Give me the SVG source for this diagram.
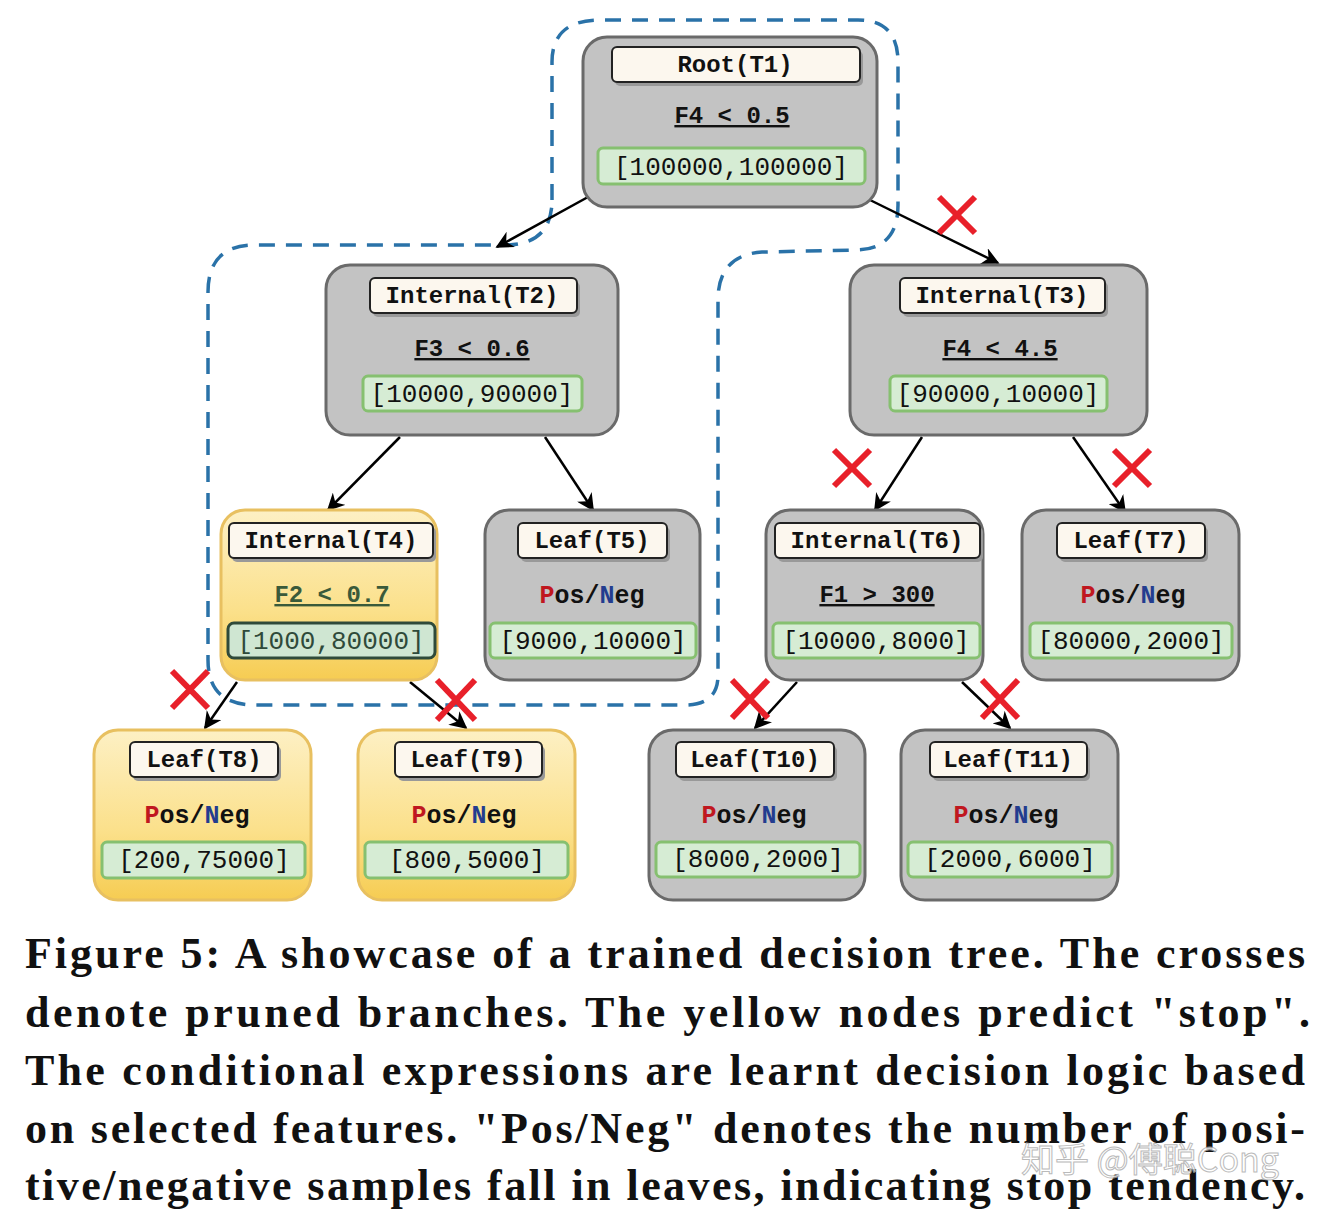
<svg xmlns="http://www.w3.org/2000/svg" width="1330" height="1222" viewBox="0 0 1330 1222">
<defs>
<linearGradient id="yel" x1="0" y1="0" x2="0" y2="1"><stop offset="0" stop-color="#fdf0c4"/><stop offset="0.6" stop-color="#fbe08a"/><stop offset="1" stop-color="#f6cc52"/></linearGradient>
<marker id="ah" viewBox="0 0 10 10" refX="9" refY="5" markerWidth="7" markerHeight="7" orient="auto"><path d="M0,0 L10,5 L0,10 L3,5 Z" fill="#000"/></marker>
</defs>
<style>
.g{fill:#c3c3c3;stroke:#6a6a6a;stroke-width:3}
.y{fill:url(#yel);stroke:#e8c060;stroke-width:3}
.lb{fill:#fcf7ee;stroke:#222;stroke-width:2}
.sh{fill:#999}
.rg{fill:#d6ecd4;stroke:#86c070;stroke-width:3}
.rgd{fill:#cfe6d2;stroke:#2f4a3a;stroke-width:3}
text{font-family:"Liberation Mono","DejaVu Sans Mono",monospace;font-weight:bold;text-anchor:middle}
.t{font-size:24px;fill:#111}
.c{font-size:24px;fill:#111;text-decoration:underline}
.r{font-size:26px;fill:#111;font-weight:normal}
.p{font-size:25px;fill:#111}
.e{stroke:#000;stroke-width:2.5;fill:none;marker-end:url(#ah)}
.x{stroke:#e8202a;stroke-width:6}
.cap{font-family:"Liberation Serif",serif;font-weight:bold;font-size:44px;text-anchor:start;fill:#111}
</style>
<rect width="1330" height="1222" fill="#fff"/>
<path d="M552,200 L552,62 Q552,20 600,20 L858,20 Q898,20 898,62 L898,205 Q898,250 855,250 L762,252 Q718,255 718,300 L718,675 Q718,705 685,705 L255,705 Q208,705 208,660 L208,292 Q208,245 255,245 L505,245 Q552,245 552,200 Z" fill="none" stroke="#2a72a8" stroke-width="3.5" stroke-dasharray="16,11"/>
<g id="connectors">
<line class="e" x1="588" y1="197" x2="497" y2="247"/>
<line class="e" x1="870" y1="200" x2="998" y2="263"/>
<line class="e" x1="400" y1="437" x2="328" y2="510"/>
<line class="e" x1="545" y1="437" x2="593" y2="510"/>
<line class="e" x1="922" y1="437" x2="875" y2="510"/>
<line class="e" x1="1073" y1="437" x2="1125" y2="512"/>
<line class="e" x1="237" y1="682" x2="205" y2="728"/>
<line class="e" x1="410" y1="682" x2="466" y2="728"/>
<line class="e" x1="797" y1="682" x2="755" y2="728"/>
<line class="e" x1="962" y1="682" x2="1010" y2="728"/>
<g class="x">
<line x1="939" y1="197" x2="975" y2="233"/><line x1="975" y1="197" x2="939" y2="233"/>
<line x1="834" y1="450" x2="870" y2="486"/><line x1="870" y1="450" x2="834" y2="486"/>
<line x1="1114" y1="450" x2="1150" y2="486"/><line x1="1150" y1="450" x2="1114" y2="486"/>
<line x1="172" y1="671" x2="208" y2="708"/><line x1="208" y1="671" x2="172" y2="708"/>
<line x1="437" y1="680" x2="475" y2="720"/><line x1="475" y1="680" x2="437" y2="720"/>
<line x1="732" y1="680" x2="768" y2="718"/><line x1="768" y1="680" x2="732" y2="718"/>
<line x1="982" y1="680" x2="1018" y2="718"/><line x1="1018" y1="680" x2="982" y2="718"/>
</g>
</g>
<g id="T1"><rect class="g" x="583" y="37" width="294" height="170" rx="24"/><rect class="sh" x="615" y="51" width="248" height="35" rx="5"/><rect class="lb" x="612" y="47" width="248" height="35" rx="5"/><text class="t" x="735" y="72">Root(T1)</text><text class="c" x="732" y="123">F4 &lt; 0.5</text><rect class="rg" x="598" y="148" width="267" height="36" rx="5"/><text class="r" x="731" y="175">[100000,100000]</text></g>
<g id="T2"><rect class="g" x="326" y="265" width="292" height="170" rx="24"/><rect class="sh" x="373" y="282" width="207" height="35" rx="5"/><rect class="lb" x="370" y="278" width="207" height="35" rx="5"/><text class="t" x="472" y="303">Internal(T2)</text><text class="c" x="472" y="356">F3 &lt; 0.6</text><rect class="rg" x="363" y="376" width="219" height="35" rx="5"/><text class="r" x="472" y="402">[10000,90000]</text></g>
<g id="T3"><rect class="g" x="850" y="265" width="297" height="170" rx="24"/><rect class="sh" x="903" y="282" width="205" height="35" rx="5"/><rect class="lb" x="900" y="278" width="205" height="35" rx="5"/><text class="t" x="1002" y="303">Internal(T3)</text><text class="c" x="1000" y="356">F4 &lt; 4.5</text><rect class="rg" x="890" y="376" width="217" height="35" rx="5"/><text class="r" x="998" y="402">[90000,10000]</text></g>
<g id="T4"><rect class="y" x="221" y="510" width="216" height="170" rx="24"/><rect class="sh" x="232" y="527" width="204" height="35" rx="5"/><rect class="lb" x="229" y="523" width="204" height="35" rx="5"/><text class="t" x="331" y="548">Internal(T4)</text><text class="c" x="332" y="602" fill="#2f4a3a" style="fill:#3a5a3a">F2 &lt; 0.7</text><rect class="rgd" x="228" y="623" width="207" height="35" rx="6"/><text class="r" x="331" y="649" style="fill:#2f4a3a">[1000,80000]</text></g>
<g id="T5"><rect class="g" x="485" y="510" width="215" height="170" rx="24"/><rect class="sh" x="521" y="527" width="149" height="35" rx="5"/><rect class="lb" x="518" y="523" width="149" height="35" rx="5"/><text class="t" x="592" y="548">Leaf(T5)</text><text class="p" x="592" y="603"><tspan fill="#c0171f">P</tspan>os/<tspan fill="#233c8f">N</tspan>eg</text><rect class="rg" x="490" y="623" width="206" height="35" rx="5"/><text class="r" x="593" y="649">[9000,10000]</text></g>
<g id="T6"><rect class="g" x="766" y="510" width="217" height="170" rx="24"/><rect class="sh" x="778" y="527" width="205" height="35" rx="5"/><rect class="lb" x="775" y="523" width="205" height="35" rx="5"/><text class="t" x="877" y="548">Internal(T6)</text><text class="c" x="877" y="602">F1 &gt; 300</text><rect class="rg" x="773" y="623" width="207" height="35" rx="5"/><text class="r" x="876" y="649">[10000,8000]</text></g>
<g id="T7"><rect class="g" x="1022" y="510" width="217" height="170" rx="24"/><rect class="sh" x="1060" y="527" width="148" height="35" rx="5"/><rect class="lb" x="1057" y="523" width="148" height="35" rx="5"/><text class="t" x="1131" y="548">Leaf(T7)</text><text class="p" x="1133" y="603"><tspan fill="#c0171f">P</tspan>os/<tspan fill="#233c8f">N</tspan>eg</text><rect class="rg" x="1030" y="623" width="202" height="35" rx="5"/><text class="r" x="1131" y="649">[80000,2000]</text></g>
<g id="T8"><rect class="y" x="94" y="730" width="217" height="170" rx="24"/><rect class="sh" x="133" y="746" width="148" height="35" rx="5"/><rect class="lb" x="130" y="742" width="148" height="35" rx="5"/><text class="t" x="204" y="767">Leaf(T8)</text><text class="p" x="197" y="823"><tspan fill="#c0171f">P</tspan>os/<tspan fill="#233c8f">N</tspan>eg</text><rect class="rg" x="102" y="842" width="203" height="36" rx="5"/><text class="r" x="204" y="868">[200,75000]</text></g>
<g id="T9"><rect class="y" x="358" y="730" width="217" height="170" rx="24"/><rect class="sh" x="398" y="746" width="147" height="35" rx="5"/><rect class="lb" x="395" y="742" width="147" height="35" rx="5"/><text class="t" x="468" y="767">Leaf(T9)</text><text class="p" x="464" y="823"><tspan fill="#c0171f">P</tspan>os/<tspan fill="#233c8f">N</tspan>eg</text><rect class="rg" x="365" y="842" width="203" height="36" rx="5"/><text class="r" x="467" y="868">[800,5000]</text></g>
<g id="T10"><rect class="g" x="649" y="730" width="216" height="170" rx="24"/><rect class="sh" x="679" y="746" width="158" height="35" rx="5"/><rect class="lb" x="676" y="742" width="158" height="35" rx="5"/><text class="t" x="755" y="767">Leaf(T10)</text><text class="p" x="754" y="823"><tspan fill="#c0171f">P</tspan>os/<tspan fill="#233c8f">N</tspan>eg</text><rect class="rg" x="656" y="842" width="204" height="35" rx="5"/><text class="r" x="758" y="867">[8000,2000]</text></g>
<g id="T11"><rect class="g" x="901" y="730" width="217" height="170" rx="24"/><rect class="sh" x="933" y="746" width="157" height="35" rx="5"/><rect class="lb" x="930" y="742" width="157" height="35" rx="5"/><text class="t" x="1008" y="767">Leaf(T11)</text><text class="p" x="1006" y="823"><tspan fill="#c0171f">P</tspan>os/<tspan fill="#233c8f">N</tspan>eg</text><rect class="rg" x="908" y="842" width="204" height="35" rx="5"/><text class="r" x="1010" y="867">[2000,6000]</text></g>
<g id="caption">
<text class="cap" x="25" y="968" textLength="1280" lengthAdjust="spacing">Figure 5: A showcase of a trained decision tree. The crosses</text>
<text class="cap" x="25" y="1027" textLength="1285" lengthAdjust="spacing">denote pruned branches. The yellow nodes predict "stop".</text>
<text class="cap" x="25" y="1085" textLength="1280" lengthAdjust="spacing">The conditional expressions are learnt decision logic based</text>
<text class="cap" x="25" y="1143" textLength="1280" lengthAdjust="spacing">on selected features. "Pos/Neg" denotes the number of posi-</text>
<text class="cap" x="25" y="1200" textLength="1280" lengthAdjust="spacing">tive/negative samples fall in leaves, indicating stop tendency.</text>
<text x="1150" y="1172" style="font-family:'Noto Sans CJK SC','Liberation Sans',sans-serif;font-weight:normal;font-size:34px;fill:#fff;stroke:#aaa;stroke-width:1;opacity:0.8">知乎 @傅聪Cong</text>
</g>
</svg>
